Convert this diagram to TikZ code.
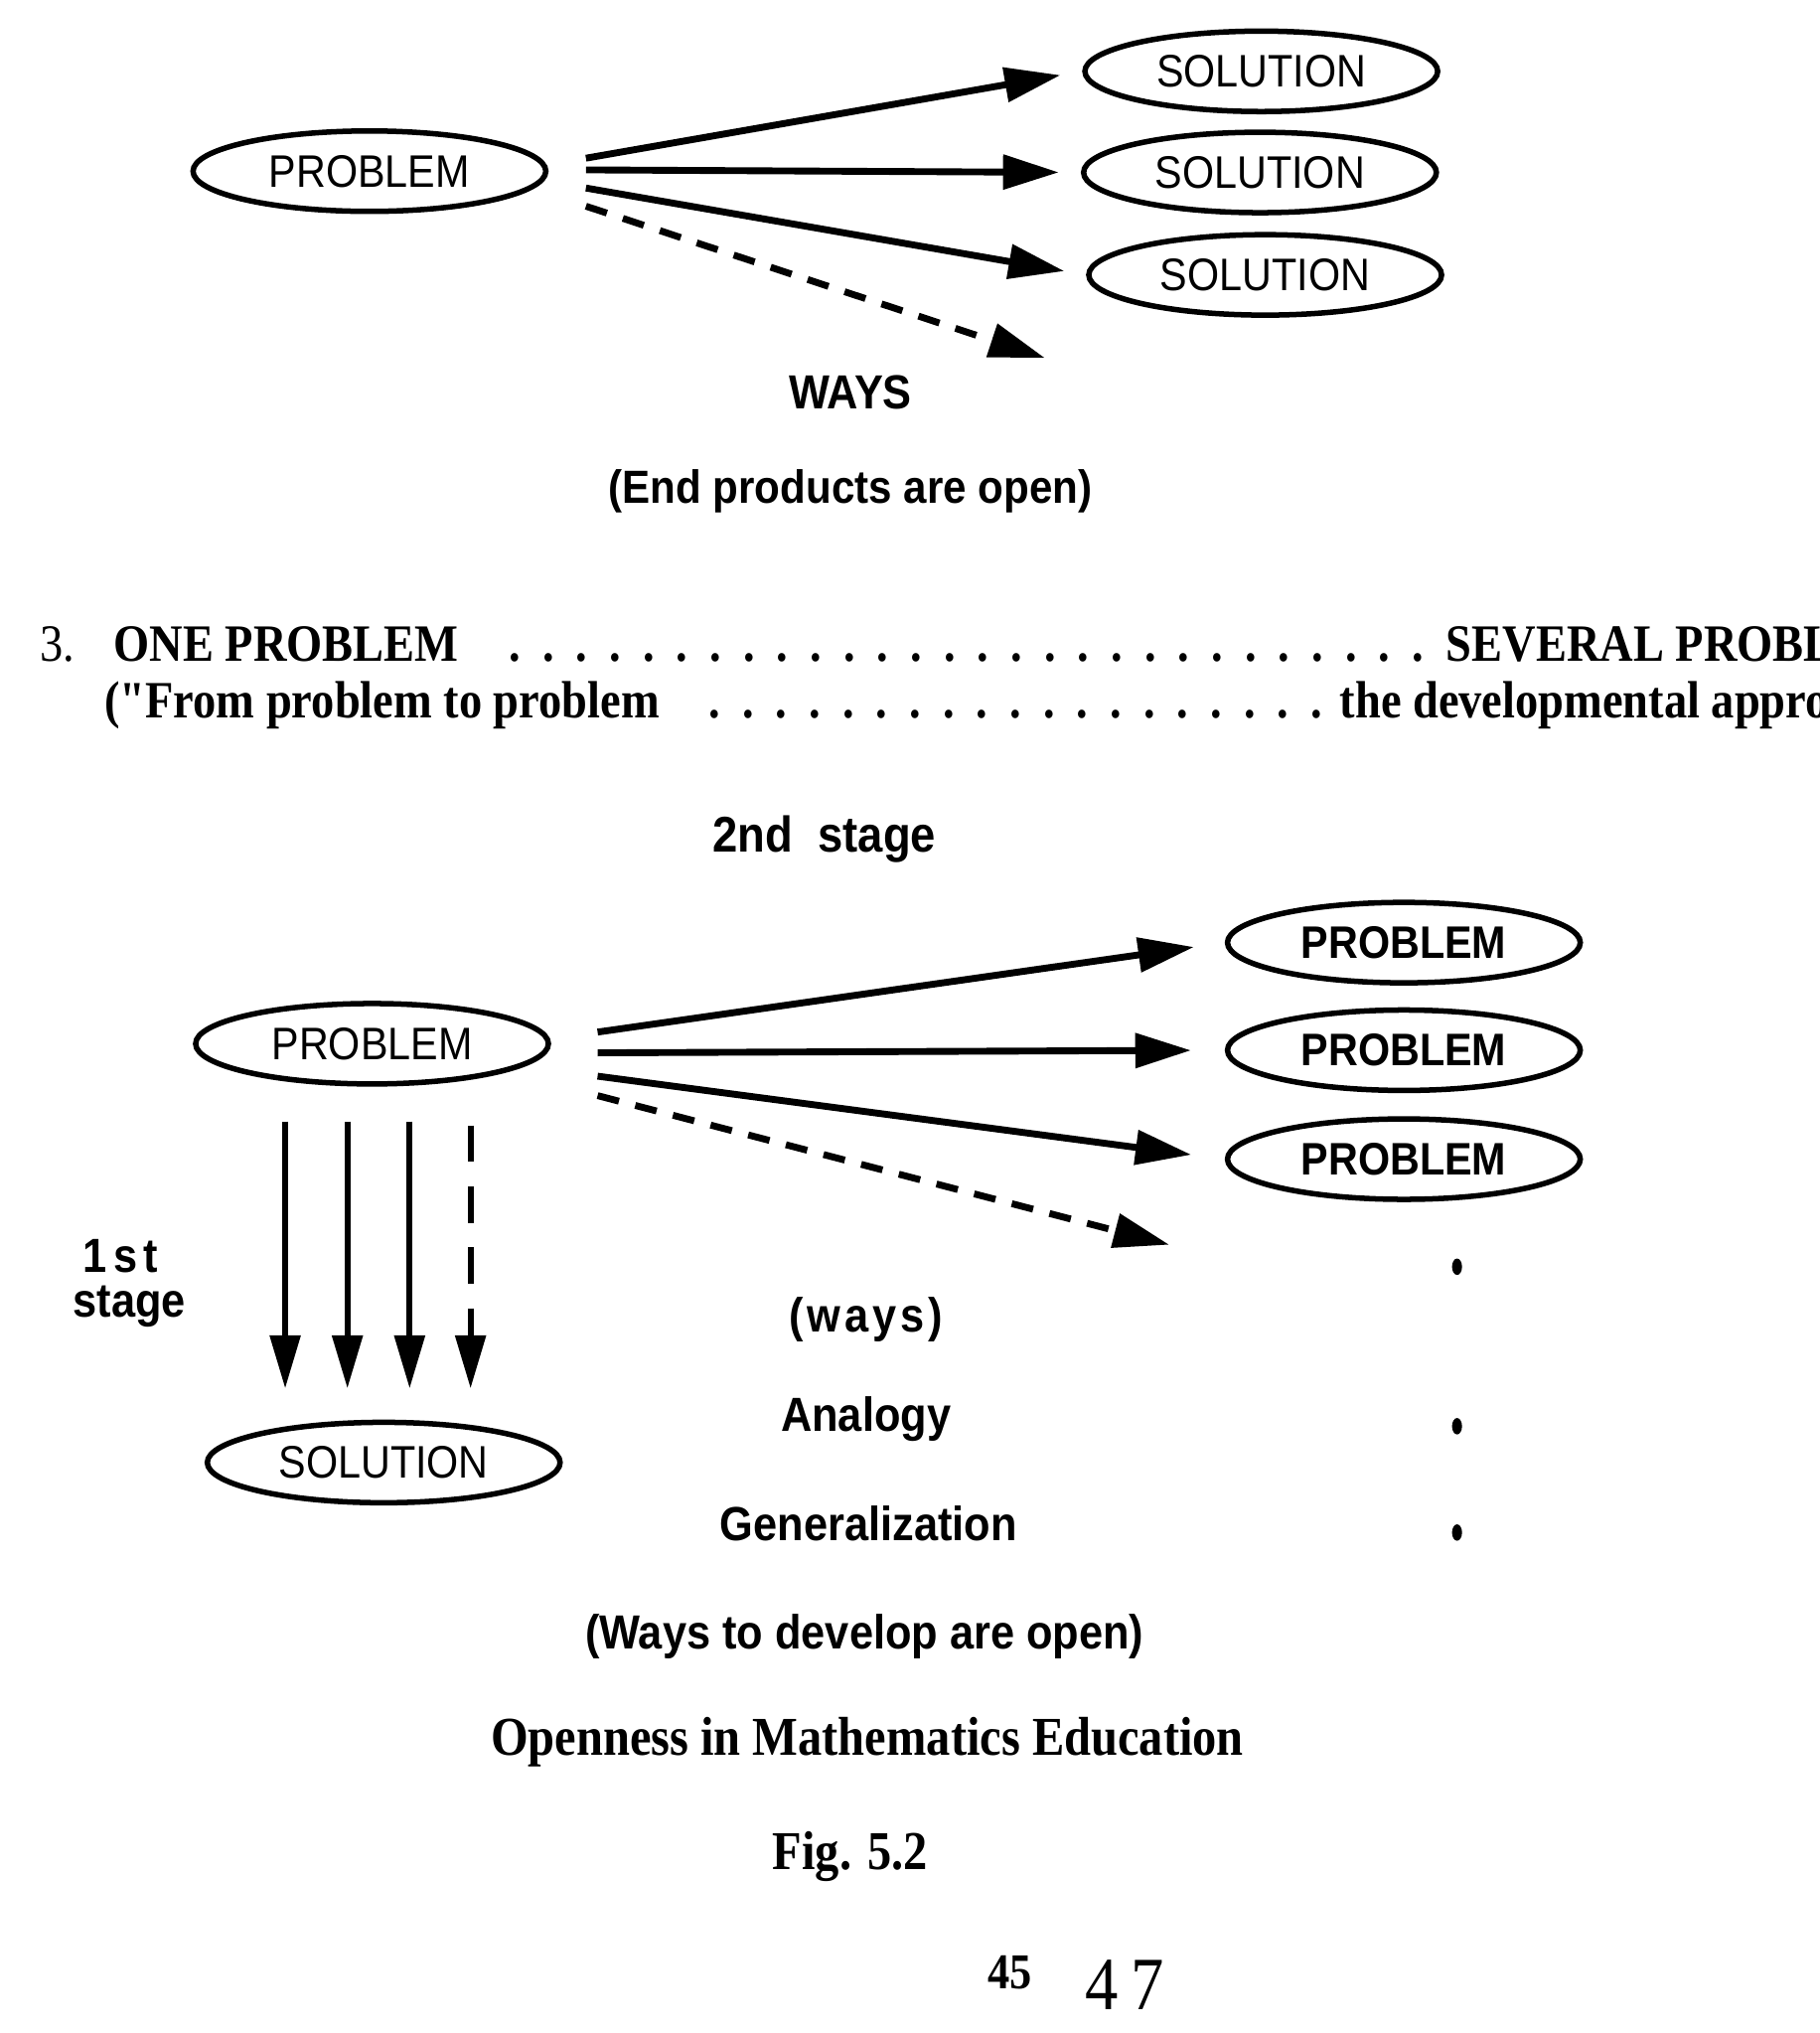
\documentclass[tikz,border=0pt]{standalone}
\usepackage{fontspec}
\newfontfamily\lblfont[FakeStretch=0.9]{Liberation Sans}
\newfontfamily\hdfont[FakeStretch=0.88]{Liberation Serif}
\usetikzlibrary{shapes.geometric,arrows.meta}

\begin{document}
\begin{tikzpicture}[x=0.01cm, y=-0.01cm,
	oval/.style={ellipse, draw, line width=1.2pt, minimum width=2.72cm, minimum height=0.62cm, inner sep=0pt, font=\lblfont\fontsize{10}{12}\selectfont},
	lbl/.style={anchor=base, font=\lblfont\bfseries\fontsize{10.5}{12}\selectfont},
	hd/.style={anchor=base west, inner xsep=0pt, font=\hdfont\bfseries\fontsize{11.5}{14}\selectfont},
	arr/.style={line width=1.5pt, -{Triangle[length=0.43cm, width=0.26cm]}, shorten >=0.17cm},
	dasharr/.style={arr, dash pattern=on 0.17cm off 0.13cm},
	downarr/.style={line width=1.3pt, -{Triangle[length=0.41cm, width=0.23cm]}, shorten >=0.24cm},
	vdot/.style={ellipse, fill, inner sep=0pt, minimum width=2.2pt, minimum height=3.6pt}]
			\useasboundingbox (0,0) rectangle (1404,1568);
			
			%end products
			\node[oval] (prob) at (285,132) {PROBLEM};
			\node[oval] (solA) at (973,55) {SOLUTION};
			\node[oval] (solB) at (972,133) {SOLUTION};
			\node[oval] (solC) at (976,212) {SOLUTION};
			\coordinate (sA) at (452,122);
			\coordinate (sB) at (452,131);
			\coordinate (sC) at (452,145);
			\coordinate (sD) at (452,159);
			\coordinate (wD) at (806,276);
			\draw[arr] (sA) -- (solA.west);
			\draw[arr] (sB) -- (solB.west);
			\draw[arr] (sC) -- (solC.west);
			\draw[dasharr, shorten >=0pt] (sD) -- (wD);
			\node[lbl] (ways) at (656,315) {WAYS};
			\node[lbl, font=\lblfont\bfseries\fontsize{10.2}{12}\selectfont] (endopen) at (656,388) {(End products are open)};
			
			%heading
			\node[hd, font=\hdfont\fontsize{11.5}{14}\selectfont] (num) at (30,510) {3.};
			\node[hd] (one) at (87,510) {ONE PROBLEM};
			\foreach \i in {0,...,27}{
				\node[hd] (dA\i) at (392+\i*25.8, 510) {.};
			}
			\node[hd] (several) at (1115,510) {SEVERAL PROBLEMS};
			\node[hd] (from) at (80,554) {("From problem to problem};
			\foreach \i in {0,...,18}{
				\node[hd] (dB\i) at (546+\i*25.8, 554) {.};
			}
			\node[hd] (devel) at (1033,554) {the developmental approach")};
			
			%ways to develop
			\node[lbl, font=\lblfont\bfseries\fontsize{11}{13}\selectfont] (second) at (636,657) {2nd\ \ stage};
			\node[oval] (probL) at (287,805) {PROBLEM};
			\node[oval, font=\lblfont\bfseries\fontsize{10}{12}\selectfont] (probA) at (1083,727) {PROBLEM};
			\node[oval, font=\lblfont\bfseries\fontsize{10}{12}\selectfont] (probB) at (1083,810) {PROBLEM};
			\node[oval, font=\lblfont\bfseries\fontsize{10}{12}\selectfont] (probC) at (1083,894) {PROBLEM};
			\node[oval] (solL) at (296,1128) {SOLUTION};
			\coordinate (tA) at (461,796);
			\coordinate (tB) at (461,812);
			\coordinate (tC) at (461,830);
			\coordinate (tD) at (461,845);
			\coordinate (wL) at (902,960);
			\draw[arr, shorten >=0.24cm] (tA) -- (probA.west);
			\draw[arr, shorten >=0.26cm] (tB) -- (probB.west);
			\draw[arr, shorten >=0.26cm] (tC) -- (probC.west);
			\draw[dasharr, shorten >=0pt] (tD) -- (wL);
			
			\foreach \x [count=\i] in {220,268,316}{
				\coordinate (d\i) at (\x,865);
				\draw[downarr] (d\i) -- (d\i |- solL.north);
			}
			\coordinate (d4) at (363,868);
			\draw[downarr, dash pattern=on 0.28cm off 0.19cm] (d4) -- (d4 |- solL.north);
			
			\node[lbl, font=\lblfont\bfseries\fontsize{10.5}{12}\selectfont\addfontfeature{LetterSpace=14}] (first) at (93,981) {1st};
			\node[lbl] (stage) at (100,1016) {stage};
			\node[lbl, font=\lblfont\bfseries\fontsize{10.5}{12}\selectfont\addfontfeature{LetterSpace=8}] (wayslow) at (668,1027) {(ways)};
			\node[lbl] (analogy) at (668,1104) {Analogy};
			\node[lbl] (general) at (670,1188) {Generalization};
			\node (e1) at (1124,977) [vdot]{};
			\node (e2) at (1124,1100) [vdot]{};
			\node (e3) at (1124,1182) [vdot]{};
			\node[lbl] (devopen) at (667,1272) {(Ways to develop are open)};
			
			%caption
			\node[hd, anchor=base, font=\hdfont\bfseries\fontsize{12}{14}\selectfont] (title) at (669,1354) {Openness in Mathematics Education};
			\node[hd, anchor=base, font=\hdfont\bfseries\fontsize{12}{14}\selectfont] (fig) at (656,1442) {Fig. 5.2};
			\node[hd, anchor=base, font=\hdfont\bfseries\fontsize{11}{13}\selectfont] (pageA) at (779,1534) {45};
			\node[hd, anchor=base, font=\hdfont\fontsize{16.5}{18}\selectfont] (pageB) at (868,1550) {4\,7};
		\end{tikzpicture}
\end{document}
